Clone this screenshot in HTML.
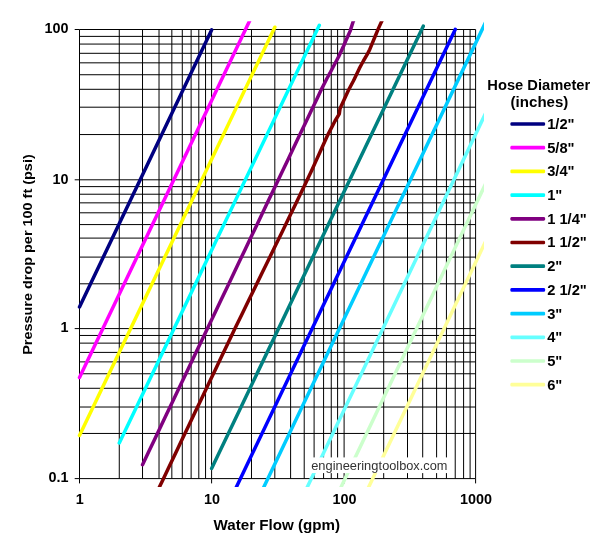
<!DOCTYPE html>
<html><head><meta charset="utf-8"><title>Hose pressure drop</title>
<style>html,body{margin:0;padding:0;background:#fff}svg text{font-family:"Liberation Sans",sans-serif;fill:#000}</style>
</head><body>
<svg width="600" height="554" viewBox="0 0 600 554" style="display:block">
<rect width="600" height="554" fill="#fff"/>
<defs><clipPath id="cp"><rect x="70" y="21.2" width="414" height="465.8"/></clipPath></defs>
<path d="M79.50 29.50V478.60M79.50 478.60H475.60M119.27 29.50V478.60M79.50 433.45H475.60M142.53 29.50V478.60M79.50 407.03H475.60M159.03 29.50V478.60M79.50 388.29H475.60M171.83 29.50V478.60M79.50 373.75H475.60M182.29 29.50V478.60M79.50 361.88H475.60M191.14 29.50V478.60M79.50 352.40H475.60M198.80 29.50V478.60M79.50 343.14H475.60M205.56 29.50V478.60M79.50 335.46H475.60M211.60 29.50V478.60M79.50 328.60H475.60M251.49 29.50V478.60M79.50 283.81H475.60M274.82 29.50V478.60M79.50 257.10H475.60M290.60 29.50V478.60M79.50 238.10H475.60M304.21 29.50V478.60M79.50 224.59H475.60M314.10 29.50V478.60M79.50 212.81H475.60M323.58 29.50V478.60M79.50 202.85H475.60M331.26 29.50V478.60M79.50 194.22H475.60M337.60 29.50V478.60M79.50 186.61H475.60M344.10 29.50V478.60M79.50 179.80H475.60M383.69 29.50V478.60M79.50 134.56H475.60M407.50 29.50V478.60M79.50 107.20H475.60M422.70 29.50V478.60M79.50 89.31H475.60M436.60 29.50V478.60M79.50 74.74H475.60M446.43 29.50V478.60M79.50 62.84H475.60M455.23 29.50V478.60M79.50 53.30H475.60M463.60 29.50V478.60M79.50 44.07H475.60M470.10 29.50V478.60M79.50 36.38H475.60M475.60 29.50V478.60M79.50 29.50H475.60" stroke="#000" stroke-width="1" fill="none"/>
<path d="M79.50 478.60v4.8M79.50 478.60h-4.8M211.60 478.60v4.8M79.50 328.60h-4.8M344.10 478.60v4.8M79.50 179.80h-4.8M475.60 478.60v4.8M79.50 29.50h-4.8" stroke="#000" stroke-width="1" fill="none"/>
<g clip-path="url(#cp)" fill="none" stroke-width="3.5" stroke-linecap="round" stroke-linejoin="round">
<path d="M79.50 307.00L211.60 29.93" stroke="#000080"/>
<path d="M79.50 377.55L274.82 -32.02" stroke="#FF00FF"/>
<path d="M79.50 435.47L274.82 27.20" stroke="#FFFF00"/>
<path d="M119.27 443.02L319.31 25.30" stroke="#00FFFF"/>
<path d="M142.53 464.71L148.56 452.06L154.59 439.41L160.61 426.76L166.64 414.11L172.67 401.47L178.70 388.82L184.73 376.17L190.76 363.52L196.79 350.87L202.82 338.23L208.85 325.58L214.88 312.93L220.90 300.28L226.93 287.63L232.96 274.99L238.99 262.34L245.02 249.69L251.05 237.04L257.08 224.39L263.11 211.75L269.14 199.10L275.16 186.45L281.19 173.80L287.22 161.15L293.25 148.50L299.28 135.86L305.31 123.21L311.34 110.56L317.37 97.91L321.81 88.60L323.50 85.26L326.92 78.50L330.18 72.62L330.52 72.00L333.10 67.00L336.87 59.97L338.52 56.90L341.51 50.40L342.98 47.32L343.61 46.00L345.70 41.00L348.52 34.67L350.21 30.90L353.02 22.02L353.19 21.50L356.29 15.00L358.97 9.38L365.00 -3.27L371.03 -15.92L377.06 -28.57L383.09 -41.22L383.09 -41.22" stroke="#800080"/>
<path d="M142.53 522.50L149.14 508.62L153.24 500.00L155.74 494.75L162.35 480.88L168.96 467.01L175.57 453.14L182.17 439.27L188.78 425.40L195.39 411.53L202.00 397.66L208.61 383.79L215.21 369.92L221.82 356.05L228.43 342.18L234.23 330.00L235.06 328.31L241.83 314.44L248.61 300.57L255.38 286.70L262.15 272.82L268.93 258.95L275.70 245.08L282.48 231.21L283.07 230.00L289.18 217.34L295.88 203.47L302.58 189.60L305.28 184.00L309.17 175.73L312.14 169.40L315.56 161.86L320.03 152.00L321.84 147.99L327.25 136.00L328.22 134.12L335.00 121.00L335.45 120.25L339.33 113.80L340.01 108.80L341.05 106.38L341.91 104.40L347.41 92.51L348.57 90.00L353.35 81.00L354.48 78.64L359.36 68.40L361.32 64.77L363.62 60.50L367.08 54.70L369.05 50.90L369.66 49.70L372.03 43.90L374.88 37.02L378.03 29.40L380.85 23.15L381.60 21.50L384.69 15.00L387.42 9.28L394.03 -4.59L400.63 -18.46L407.24 -32.33L407.24 -32.33" stroke="#800000"/>
<path d="M211.60 468.47L423.27 26.18" stroke="#008080"/>
<path d="M211.60 538.89L455.23 29.39" stroke="#0000FF"/>
<path d="M211.60 596.54L515.19 -39.79" stroke="#00CCFF"/>
<path d="M251.49 604.08L515.19 51.27" stroke="#66FFFF"/>
<path d="M304.21 564.45L515.19 121.66" stroke="#CCFFCC"/>
<path d="M344.10 538.70L515.19 179.28" stroke="#FFFF99"/>
</g>
<rect x="307" y="457.4" width="144" height="15.7" fill="#fff"/>
<text x="311.2" y="469.9" font-size="13px" style="fill:#333" textLength="67.2" lengthAdjust="spacingAndGlyphs">engineering</text>
<text x="378.6" y="469.9" font-size="13px" style="fill:#333" textLength="68.8" lengthAdjust="spacingAndGlyphs">toolbox.com</text>
<text x="68.5" y="33.3" text-anchor="end" font-size="15px" font-weight="bold" textLength="24.0" lengthAdjust="spacingAndGlyphs">100</text>
<text x="68.5" y="183.6" text-anchor="end" font-size="15px" font-weight="bold" textLength="16.0" lengthAdjust="spacingAndGlyphs">10</text>
<text x="68.5" y="332.4" text-anchor="end" font-size="15px" font-weight="bold" textLength="8.0" lengthAdjust="spacingAndGlyphs">1</text>
<text x="68.5" y="482.4" text-anchor="end" font-size="15px" font-weight="bold" textLength="20.0" lengthAdjust="spacingAndGlyphs">0.1</text>
<text x="79.8" y="504.3" text-anchor="middle" font-size="15px" font-weight="bold" textLength="8.0" lengthAdjust="spacingAndGlyphs">1</text>
<text x="211.9" y="504.3" text-anchor="middle" font-size="15px" font-weight="bold" textLength="16.0" lengthAdjust="spacingAndGlyphs">10</text>
<text x="344.4" y="504.3" text-anchor="middle" font-size="15px" font-weight="bold" textLength="24.0" lengthAdjust="spacingAndGlyphs">100</text>
<text x="475.9" y="504.3" text-anchor="middle" font-size="15px" font-weight="bold" textLength="32.0" lengthAdjust="spacingAndGlyphs">1000</text>
<text x="213.5" y="530" text-anchor="start" font-size="14.7px" font-weight="bold" textLength="126.5" lengthAdjust="spacingAndGlyphs">Water Flow (gpm)</text>
<text transform="translate(32.1 354.8) rotate(-90)" font-size="13.5px" font-weight="bold" textLength="200.5" lengthAdjust="spacingAndGlyphs">Pressure drop per 100 ft (psi)</text>
<text x="487.3" y="90" text-anchor="start" font-size="14.7px" font-weight="bold">Hose Diameter</text>
<text x="510.6" y="106.6" text-anchor="start" font-size="14.7px" font-weight="bold" textLength="57.8" lengthAdjust="spacingAndGlyphs">(inches)</text>
<rect x="510.4" y="122.15" width="34.7" height="3.7" rx="1.3" fill="#000080"/>
<text x="547.2" y="128.9" text-anchor="start" font-size="14.7px" font-weight="bold">1/2&quot;</text>
<rect x="510.4" y="145.85" width="34.7" height="3.7" rx="1.3" fill="#FF00FF"/>
<text x="547.2" y="152.6" text-anchor="start" font-size="14.7px" font-weight="bold">5/8&quot;</text>
<rect x="510.4" y="169.55" width="34.7" height="3.7" rx="1.3" fill="#FFFF00"/>
<text x="547.2" y="176.3" text-anchor="start" font-size="14.7px" font-weight="bold">3/4&quot;</text>
<rect x="510.4" y="193.25" width="34.7" height="3.7" rx="1.3" fill="#00FFFF"/>
<text x="547.2" y="200.0" text-anchor="start" font-size="14.7px" font-weight="bold">1&quot;</text>
<rect x="510.4" y="216.95" width="34.7" height="3.7" rx="1.3" fill="#800080"/>
<text x="547.2" y="223.7" text-anchor="start" font-size="14.7px" font-weight="bold">1 1/4&quot;</text>
<rect x="510.4" y="240.65" width="34.7" height="3.7" rx="1.3" fill="#800000"/>
<text x="547.2" y="247.4" text-anchor="start" font-size="14.7px" font-weight="bold">1 1/2&quot;</text>
<rect x="510.4" y="264.35" width="34.7" height="3.7" rx="1.3" fill="#008080"/>
<text x="547.2" y="271.1" text-anchor="start" font-size="14.7px" font-weight="bold">2&quot;</text>
<rect x="510.4" y="288.05" width="34.7" height="3.7" rx="1.3" fill="#0000FF"/>
<text x="547.2" y="294.8" text-anchor="start" font-size="14.7px" font-weight="bold">2 1/2&quot;</text>
<rect x="510.4" y="311.75" width="34.7" height="3.7" rx="1.3" fill="#00CCFF"/>
<text x="547.2" y="318.5" text-anchor="start" font-size="14.7px" font-weight="bold">3&quot;</text>
<rect x="510.4" y="335.45" width="34.7" height="3.7" rx="1.3" fill="#66FFFF"/>
<text x="547.2" y="342.2" text-anchor="start" font-size="14.7px" font-weight="bold">4&quot;</text>
<rect x="510.4" y="359.15" width="34.7" height="3.7" rx="1.3" fill="#CCFFCC"/>
<text x="547.2" y="365.9" text-anchor="start" font-size="14.7px" font-weight="bold">5&quot;</text>
<rect x="510.4" y="382.85" width="34.7" height="3.7" rx="1.3" fill="#FFFF99"/>
<text x="547.2" y="389.6" text-anchor="start" font-size="14.7px" font-weight="bold">6&quot;</text>
</svg>
</body></html>
